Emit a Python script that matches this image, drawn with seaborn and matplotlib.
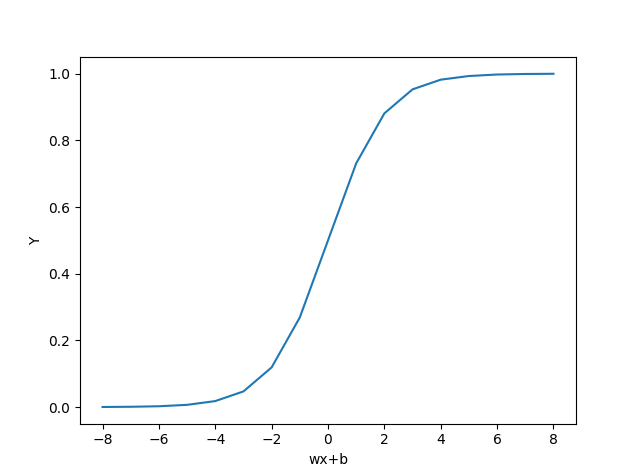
import matplotlib
matplotlib.use("Agg")
import matplotlib.pyplot as plt
import seaborn as sns

# values
z = [-8, -7, -6, -5, -4, -3, -2, -1, 0, 1, 2, 3, 4, 5, 6, 7, 8]
y = [0.0003, 0.0009, 0.0025, 0.0067, 0.018, 0.047, 0.119, 0.269, 0.5,
     0.731, 0.881, 0.953, 0.982, 0.993, 0.9975, 0.9991, 0.9997]

fig, ax = plt.subplots(figsize=(6.4, 4.76), dpi=100)
sns.lineplot(x=z, y=y, ax=ax)
ax.set_xlabel("wx+b")
ax.set_ylabel("Y")

fig.savefig("out.png")
